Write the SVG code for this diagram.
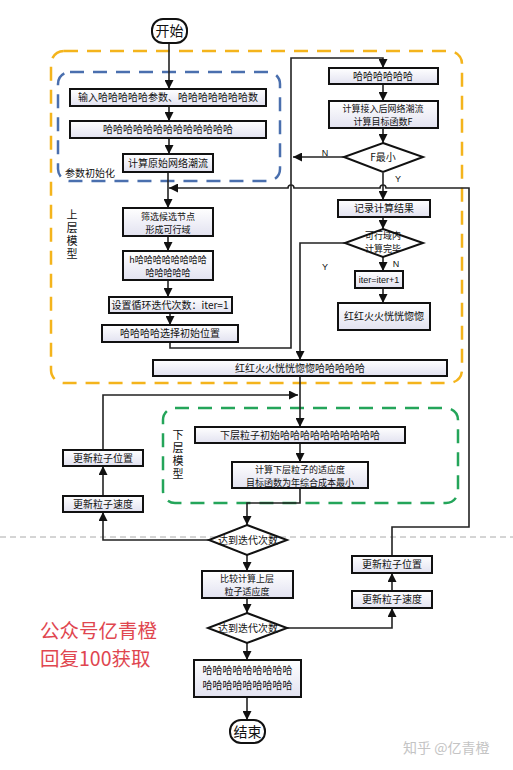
<svg xmlns="http://www.w3.org/2000/svg" width="513" height="770" viewBox="0 0 513 770">
<defs>
<linearGradient id="g" x1="0" y1="0" x2="0" y2="1">
<stop offset="0" stop-color="#ffffff"/>
<stop offset="1" stop-color="#e2e2f0"/>
</linearGradient>
<marker id="ar" viewBox="0 0 10 10" refX="10" refY="5" markerWidth="9" markerHeight="9" markerUnits="userSpaceOnUse" orient="auto">
<path d="M0,0 L10,5 L0,10 z" fill="#111"/>
</marker>
<style>
.box{fill:url(#g);stroke:#111;stroke-width:2}
.term{fill:#fff;stroke:#111;stroke-width:2}
.t{font-family:"Noto Sans CJK SC","Noto Sans",sans-serif;font-size:10px;fill:#111;text-anchor:middle}
.t2{font-family:"Noto Sans CJK SC","Noto Sans",sans-serif;font-size:9px;fill:#111;text-anchor:middle}
.big{font-size:14px}
.vert{font-family:"Noto Sans CJK SC","Noto Sans",sans-serif;font-size:11px;fill:#111;writing-mode:vertical-rl;letter-spacing:2px}
.lbl{font-family:"Liberation Sans","Noto Sans CJK SC",sans-serif;font-size:9px;fill:#111;text-anchor:middle}
.ca{fill:none;stroke:#222;stroke-width:1.6;marker-end:url(#ar)}
.grp{fill:none;stroke-width:2.5;stroke-dasharray:14 9}
</style>
</defs>
<rect width="513" height="770" fill="#fff"/>
<line x1="0" y1="537" x2="513" y2="537" stroke="#aaa" stroke-width="1" stroke-dasharray="6 4"/>
<g id="groups">
<rect id="upper-model" class="grp" x="51" y="51" width="411" height="332" rx="13" stroke="#f4b41c"/>
<rect id="param-init" class="grp" x="58" y="72" width="222" height="109" rx="12" stroke="#4a6fae"/>
<rect id="lower-model" class="grp" x="163" y="408" width="295" height="95" rx="12" stroke="#24a55a"/>
<text class="t" x="90" y="177">参数初始化</text>
<text class="vert" x="72" y="209">上层模型</text>
<text class="vert" x="178" y="429">下层模型</text>
</g>
<g id="connectors">
<path class="ca" d="M169,43 V89"/>
<path class="ca" d="M169,106 V121"/>
<path class="ca" d="M169,138 V154"/>
<path class="ca" d="M168,172 V208"/>
<path class="ca" d="M392,556 V527 H469 V188 H386 a3,3 0 0 0 -6,0 H294 a3,3 0 0 0 -6,0 H169"/>
<path class="ca" d="M168,236 V251"/>
<path class="ca" d="M168,280 V297"/>
<path class="ca" d="M170,313 V325"/>
<path class="ca" d="M170,342 V348 H291 V58 H383 V68"/>
<path class="ca" d="M383,84 V101"/>
<path class="ca" d="M383,128 V143"/>
<path class="ca" d="M344,157 H293"/>
<path class="ca" d="M383,173 V200"/>
<path class="ca" d="M383,217 V229"/>
<path class="ca" d="M345,243 H300 V360"/>
<path class="ca" d="M383,257 V271"/>
<path class="ca" d="M383,288 V303"/>
<path class="ca" d="M300,376 V427"/>
<path class="ca" d="M209,540 H103 V512"/>
<path class="ca" d="M103,496 V466"/>
<path class="ca" d="M103,450 V395 H298"/>
<path class="ca" d="M300,442 V462"/>
<path class="ca" d="M300,488 V503 H247 V525"/>
<path class="ca" d="M247,555 V571"/>
<path class="ca" d="M247,598 V613"/>
<path class="ca" d="M287,628 H392 V608"/>
<path class="ca" d="M392,591 V573"/>
<path class="ca" d="M247,643 V660"/>
<path class="ca" d="M247,697 V720"/>
<text class="lbl" x="325" y="156">N</text>
<text class="lbl" x="398" y="182">Y</text>
<text class="lbl" x="325" y="270">Y</text>
<text class="lbl" x="396" y="267">N</text>
</g>
<g id="start"><rect class="term" x="152" y="19" width="35" height="24" rx="11"/><text class="t big" x="169.5" y="36">开始</text></g>
<g id="input"><rect class="box" x="70" y="89" width="196" height="17"/><text class="t" x="168" y="101">输入哈哈哈哈哈参数、哈哈哈哈哈哈哈数</text></g>
<g id="haha1"><rect class="box" x="70" y="121" width="196" height="17"/><text class="t" x="168" y="133">哈哈哈哈哈哈哈哈哈哈哈哈哈</text></g>
<g id="calc-orig"><rect class="box" x="123" y="154" width="90" height="18"/><text class="t" x="168" y="167">计算原始网络潮流</text></g>
<g id="filter"><rect class="box" x="123" y="208" width="90" height="28"/><text class="t2"><tspan x="168" y="219.5">筛选候选节点</tspan><tspan x="168" y="232.5">形成可行域</tspan></text></g>
<g id="h-box"><rect class="box" x="123" y="251" width="90" height="29"/><text class="t2"><tspan x="168" y="262.5">h哈哈哈哈哈哈哈哈</tspan><tspan x="168" y="275.5">哈哈哈哈哈</tspan></text></g>
<g id="set-iter"><rect class="box" x="109" y="297" width="123" height="16"/><text class="t" x="170" y="309">设置循环迭代次数：iter=1</text></g>
<g id="init-pos"><rect class="box" x="102" y="325" width="136" height="17"/><text class="t" x="170" y="337">哈哈哈哈选择初始位置</text></g>
<g id="haha-r"><rect class="box" x="329" y="68" width="109" height="16"/><text class="t" x="383" y="80">哈哈哈哈哈哈</text></g>
<g id="calc-after"><rect class="box" x="329" y="101" width="109" height="27"/><text class="t2"><tspan x="383" y="112">计算接入后网络潮流</tspan><tspan x="383" y="125">计算目标函数F</tspan></text></g>
<g id="f-min"><polygon class="term" points="383,143 423,157 383,172 344,157"/><text class="t" x="383" y="161">F最小</text></g>
<g id="record"><rect class="box" x="338" y="200" width="92" height="17"/><text class="t" x="384" y="212">记录计算结果</text></g>
<g id="feasible-done"><polygon class="term" points="383,229 423,243 383,257 345,243"/><text class="t2"><tspan x="383" y="239">可行域内</tspan><tspan x="383" y="252">计算完毕</tspan></text></g>
<g id="iter-inc"><rect class="box" x="355" y="271" width="48" height="17"/><text class="lbl" x="379" y="283">iter=iter+1</text></g>
<g id="hhhh"><rect class="box" x="338" y="303" width="92" height="27"/><text class="t" x="384" y="320">红红火火恍恍惚惚</text></g>
<g id="big-box"><rect class="box" x="153" y="360" width="294" height="16"/><text class="t" x="300" y="372">红红火火恍恍惚惚哈哈哈哈哈</text></g>
<g id="lower-init"><rect class="box" x="195" y="427" width="210" height="16"/><text class="t" x="300" y="439">下层粒子初始哈哈哈哈哈哈哈哈哈哈</text></g>
<g id="lower-fit"><rect class="box" x="232" y="462" width="136" height="26"/><text class="t2"><tspan x="300" y="472.5">计算下层粒子的适应度</tspan><tspan x="300" y="485.5">目标函数为年综合成本最小</tspan></text></g>
<g id="upd-pos-l"><rect class="box" x="63" y="450" width="80" height="16"/><text class="t" x="103" y="462">更新粒子位置</text></g>
<g id="upd-vel-l"><rect class="box" x="63" y="496" width="80" height="16"/><text class="t" x="103" y="508">更新粒子速度</text></g>
<g id="iter-reached-1"><polygon class="term" points="247,525 287,540 247,555 209,540"/><text class="t" x="248" y="544">达到迭代次数</text></g>
<g id="compare"><rect class="box" x="202" y="571" width="91" height="27"/><text class="t2"><tspan x="247" y="582">比较计算上层</tspan><tspan x="247" y="595">粒子适应度</tspan></text></g>
<g id="iter-reached-2"><polygon class="term" points="247,613 287,628 247,643 208,628"/><text class="t" x="248" y="632">达到迭代次数</text></g>
<g id="upd-pos-r"><rect class="box" x="352" y="556" width="80" height="17"/><text class="t" x="392" y="568">更新粒子位置</text></g>
<g id="upd-vel-r"><rect class="box" x="352" y="591" width="80" height="17"/><text class="t" x="392" y="603">更新粒子速度</text></g>
<g id="final"><rect class="box" x="194" y="660" width="107" height="37"/><text class="t"><tspan x="247.5" y="674">哈哈哈哈哈哈哈哈哈</tspan><tspan x="247.5" y="689">哈哈哈哈哈哈哈哈哈</tspan></text></g>
<g id="end"><rect class="term" x="230" y="720" width="35" height="23" rx="11"/><text class="t big" x="247.5" y="737">结束</text></g>
<g id="notes">
<text x="40" y="638" font-family="Noto Sans CJK SC, sans-serif" font-size="19.5" fill="#e0464f">公众号亿青橙</text>
<text x="40" y="666" font-family="Noto Sans CJK SC, sans-serif" font-size="19.5" fill="#e0464f">回复100获取</text>
<text x="403" y="753" font-family="Noto Sans CJK SC, sans-serif" font-size="14" fill="#c4c4c4">知乎 @亿青橙</text>
</g>
</svg>
